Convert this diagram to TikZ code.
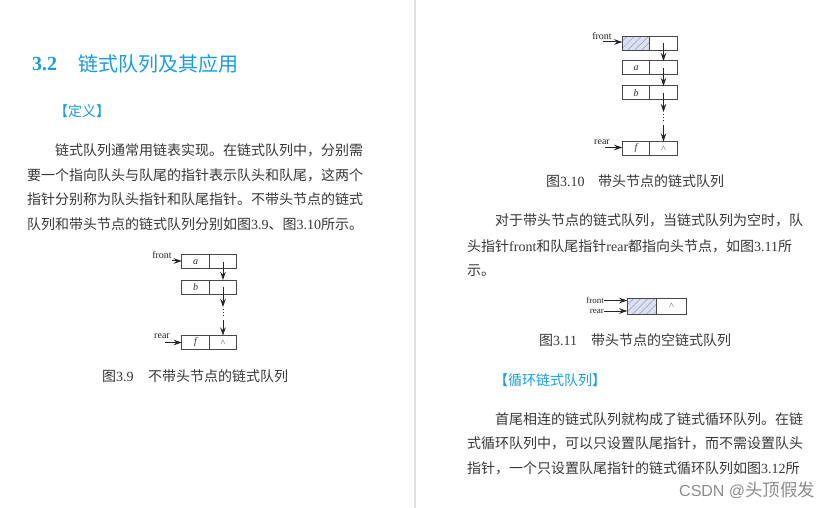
\documentclass[tikz,border=0pt]{standalone}
\usepackage{fontspec}
\usepackage{tikz}
\usetikzlibrary{arrows.meta,patterns.meta}
\setmainfont{Liberation Serif}
\newfontfamily\cjk{Noto Sans CJK SC}
\newfontfamily\marksans{Liberation Sans}
\definecolor{headblue}{HTML}{1C9BE0}
\definecolor{hatchblue}{HTML}{8C9CCB}
\newcommand{\latin}[1]{\textrm{#1}}

\begin{document}
\begin{tikzpicture}[x=1pt, y=-1pt,
    pagetext/.style={anchor=west, inner sep=0pt, text=black!78, font=\fontsize{14}{14}\selectfont\cjk},
    bluetext/.style={anchor=west, inner sep=0pt, text=headblue, font=\fontsize{14}{14}\selectfont\cjk},
    figlabel/.style={anchor=center, inner sep=0pt, text=black!85, font=\fontsize{10}{10}\selectfont},
    cell/.style={draw=black!72, line width=1pt, inner sep=0pt, outer sep=0pt, minimum width=27.5pt, minimum height=14pt, text=black!80, font=\fontsize{10}{10}\selectfont\itshape},
    widecell/.style={cell, minimum width=29.5pt, minimum height=16pt},
    hatched/.style={preaction={fill=hatchblue!30}, pattern={Lines[angle=45,distance=5pt,line width=0.5pt]}, pattern color=hatchblue},
    ptr/.style={-{Stealth[length=8pt,width=5.5pt]}, line width=1pt, black!85},
    dotline/.style={line width=1pt, black!85, dash pattern=on 1pt off 2pt, shorten <=2pt, shorten >=2pt}]

    \useasboundingbox (0,0) rectangle (831,508);
    \fill[white] (0,0) rectangle (831,508);
    \draw[black!12, line width=2.5pt] (415,0) -- (415,508);

    % left page text
    \node[anchor=west, inner sep=0pt, text=headblue, font=\fontsize{20}{20}\selectfont\bfseries] (secnum) at (32,64) {3.2};
    \node[anchor=west, inner sep=0pt, text=headblue, font=\fontsize{20}{20}\selectfont\cjk] (sectitle) at (78,64) {链式队列及其应用};
    \node[bluetext] (defhead) at (54,111) {【定义】};
    \node[pagetext] (line1) at (55,150) {链式队列通常用链表实现。在链式队列中，分别需};
    \node[pagetext] (line2) at (27,175) {要一个指向队头与队尾的指针表示队头和队尾，这两个};
    \node[pagetext] (line3) at (27,199) {指针分别称为队头指针和队尾指针。不带头节点的链式};
    \node[pagetext] (line4) at (27,224) {队列和带头节点的链式队列分别如图\latin{3.9}、图\latin{3.10}所示。};

    % figure 3.9
    \node[cell] (a9) at (195.5,262) {a};
    \node[cell] (a9p) at (223,262) {};
    \node[cell] (b9) at (195.5,287) {b};
    \node[cell] (b9p) at (223,287) {};
    \coordinate (dots9a) at (223,307);
    \coordinate (dots9b) at (223,320);
    \node[cell] (f9) at (195.5,342.5) {f};
    \node[cell] (f9p) at (223,342.5) {\normalfont$\scriptstyle\wedge$};
    \node[figlabel] (front9) at (162,255) {front};
    \node[figlabel] (rear9) at (162,336) {rear};
    \coordinate (front9in) at (172,261);
    \coordinate (rear9in) at (165,342.5);
    \draw[ptr] (front9in) -- (a9.west |- front9in);
    \draw[ptr] (rear9in) -- (f9.west);
    \draw[ptr] (a9p.center) -- (b9p.north);
    \draw[ptr] (b9p.center) -- (dots9a);
    \draw[dotline] (dots9a) -- (dots9b);
    \draw[ptr] (dots9b) -- (f9p.north);
    \node[pagetext] (cap9) at (102,376) {图\latin{3.9}};
    \node[pagetext] (cap9b) at (148,376) {不带头节点的链式队列};

    % figure 3.10
    \node[cell, hatched] (h10) at (636,43.5) {};
    \node[cell] (h10p) at (663.5,43.5) {};
    \node[cell] (a10) at (636,68) {a};
    \node[cell] (a10p) at (663.5,68) {};
    \node[cell] (b10) at (636,93) {b};
    \node[cell] (b10p) at (663.5,93) {};
    \coordinate (dots10a) at (663.5,112);
    \coordinate (dots10b) at (663.5,125);
    \node[cell] (f10) at (636,148.5) {f};
    \node[cell] (f10p) at (663.5,148.5) {\normalfont$\scriptstyle\wedge$};
    \node[figlabel] (front10) at (602,36) {front};
    \node[figlabel] (rear10) at (602,142) {rear};
    \coordinate (front10in) at (603,42);
    \coordinate (rear10in) at (605,147.5);
    \draw[ptr] (front10in) -- (h10.west |- front10in);
    \draw[ptr] (rear10in) -- (f10.west |- rear10in);
    \draw[ptr] (h10p.center) -- (a10p.north);
    \draw[ptr] (a10p.center) -- (b10p.north);
    \draw[ptr] (b10p.center) -- (dots10a);
    \draw[dotline] (dots10a) -- (dots10b);
    \draw[ptr] (dots10b) -- (f10p.north);
    \node[pagetext] (cap10) at (546,181) {图\latin{3.10}};
    \node[pagetext] (cap10b) at (598,181) {带头节点的链式队列};

    % right page text
    \node[pagetext] (para1) at (495,220) {对于带头节点的链式队列，当链式队列为空时，队};
    \node[pagetext] (para2) at (467,246) {头指针\latin{front}和队尾指针\latin{rear}都指向头节点，如图\latin{3.11}所};
    \node[pagetext] (para3) at (467,271) {示。};

    % figure 3.11
    \node[widecell, hatched] (h11) at (642,306) {};
    \node[widecell] (h11p) at (671.5,306) {\normalfont$\scriptstyle\wedge$};
    \node[figlabel, anchor=east, font=\fontsize{9}{9}\selectfont] (front11) at (604,300.5) {front};
    \node[figlabel, anchor=east, font=\fontsize{9}{9}\selectfont] (rear11) at (604,311) {rear};
    \draw[ptr] (front11.east) -- (h11.west |- front11.east);
    \draw[ptr] (rear11.east) -- (h11.west |- rear11.east);
    \node[pagetext] (cap11) at (539,340) {图\latin{3.11}};
    \node[pagetext] (cap11b) at (591,340) {带头节点的空链式队列};

    \node[bluetext] (circhead) at (494,380) {【循环链式队列】};
    \node[pagetext] (para4) at (495,419) {首尾相连的链式队列就构成了链式循环队列。在链};
    \node[pagetext] (para5) at (467,443) {式循环队列中，可以只设置队尾指针，而不需设置队头};
    \node[pagetext] (para6) at (467,468) {指针，一个只设置队尾指针的链式循环队列如图\latin{3.12}所};

    % watermark
    \node[anchor=west, inner sep=0pt, text=black!45, font=\fontsize{16}{16}\selectfont\marksans] (mark) at (679,490) {CSDN @{\fontsize{17.5}{17.5}\selectfont\cjk 头顶假发}};
\end{tikzpicture}
\end{document}
